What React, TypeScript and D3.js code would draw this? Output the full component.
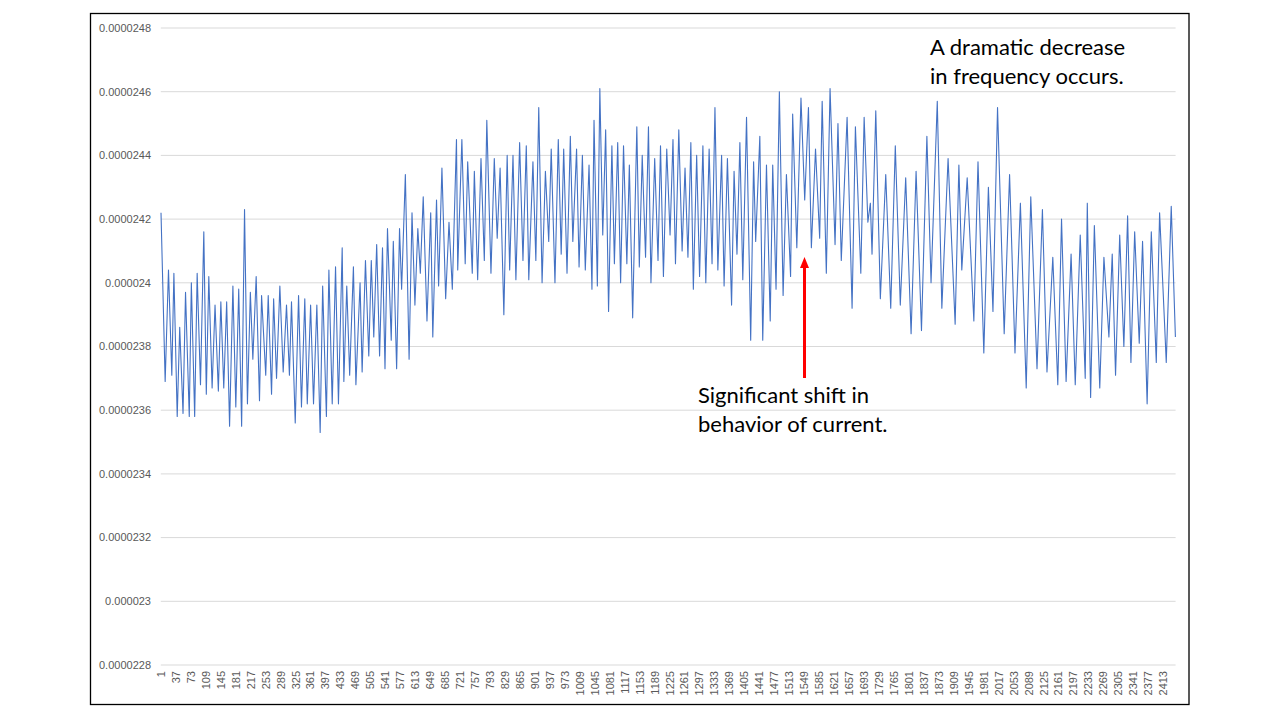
import React from "react";
import * as d3 from "d3";

// number of samples on the category axis
const N_POINTS = 2442;

// sample index of each turning point of the trace
const sampleIdx = [
  1, 11, 19, 27, 32, 40, 46, 54, 60, 69, 74, 82, 88, 96, 104, 110, 116, 124, 131, 139,
  145, 152, 159, 166, 174, 181, 188, 195, 202, 209, 216, 222, 230, 238, 243, 253, 259, 267, 272, 279,
  287, 295, 303, 310, 315, 324, 332, 339, 347, 353, 361, 368, 376, 384, 390, 399, 405, 413, 421, 428,
  437, 441, 448,
  455, 464, 470, 480, 485, 493, 501, 507, 513, 520, 527, 534, 540, 546, 555, 560, 568, 575, 580, 589,
  598, 605, 612, 619, 625, 632, 641, 650, 655, 664, 669, 677, 686, 694, 702, 712, 715, 725, 733, 739,
  750, 755, 763, 771, 779, 785, 795, 803, 810, 817, 826, 834, 840, 848, 855, 864, 872, 880, 886, 896,
  903, 910, 918, 926, 934, 940, 949, 957, 964, 970, 978, 986, 992, 1001, 1007, 1015, 1022, 1031, 1038, 1043,
  1051, 1057,
  1064, 1071, 1078, 1086, 1092, 1100, 1107, 1114, 1122, 1128, 1136, 1146, 1152, 1159, 1167, 1174, 1180, 1189, 1197, 1203,
  1210, 1218, 1226, 1233, 1239, 1247, 1255, 1262, 1269, 1276, 1282, 1290, 1297, 1305, 1312, 1320, 1327, 1334, 1341, 1350,
  1356, 1364, 1374, 1380, 1387, 1394, 1401, 1410, 1420, 1427, 1432, 1442, 1449, 1458, 1467, 1473, 1481, 1489, 1498, 1506,
  1516, 1521, 1531, 1541, 1550, 1559, 1566, 1576, 1586, 1592, 1602, 1611, 1623, 1630,
  1638, 1652, 1664, 1672, 1685, 1693, 1702, 1708, 1712, 1721, 1732, 1745, 1757, 1768, 1780, 1793, 1806, 1818, 1831, 1844,
  1854, 1869, 1880, 1895, 1912, 1921, 1928, 1941, 1957, 1967, 1981, 1992, 2003, 2014, 2030, 2043, 2056, 2069, 2083, 2094,
  2109, 2122, 2133, 2147, 2159, 2168, 2179, 2191, 2201, 2213, 2225, 2230, 2238, 2247, 2260, 2270, 2282, 2290, 2298, 2308,
  2318, 2327, 2335, 2344, 2355, 2363, 2374, 2384, 2396, 2404, 2416, 2420, 2432, 2442,
];

// current at those samples, in units of 1e-7
const current = [
  242.2, 236.9, 240.4, 237.1, 240.3, 235.8, 238.6, 235.9, 239.7, 235.8, 240.0, 235.8, 240.3, 236.8, 241.6, 236.5, 240.2, 236.7, 239.3, 236.6,
  239.4, 236.7, 239.4, 235.5, 239.9, 236.1, 239.8, 235.5, 242.3, 236.2, 239.7, 237.6, 240.2, 236.3, 239.6, 237.1, 239.6, 236.5, 239.5, 237.0,
  239.9, 237.2, 239.3, 237.1, 239.4, 235.6, 239.6, 236.1, 239.5, 236.2, 239.3, 236.2, 239.3, 235.3, 239.9, 235.8, 240.4, 236.2, 240.5, 236.2,
  241.1, 236.9, 239.9,
  237.1, 240.5, 236.8, 240.0, 237.2, 240.7, 237.7, 240.7, 238.3, 241.2, 237.7, 241.1, 237.3, 241.7, 238.2, 241.3, 237.3, 241.7, 239.8, 243.4,
  237.6, 242.2, 239.3, 241.7, 240.3, 242.7, 238.8, 242.2, 238.3, 242.6, 239.9, 243.6, 239.5, 241.9, 239.8, 244.5, 240.4, 244.5, 240.6, 243.8,
  240.3, 243.5, 240.1, 243.9, 240.7, 245.1, 240.3, 243.9, 241.4, 243.6, 239.0, 244.0, 240.4, 244.0, 240.1, 244.4, 240.7, 244.3, 240.1, 243.8,
  240.7, 245.5, 240.0, 243.5, 241.3, 244.2, 240.0, 244.5, 240.9, 244.2, 240.3, 244.6, 241.3, 244.2, 240.5, 244.0, 240.4, 243.7, 239.8, 245.1,
  239.9, 246.1,
  241.5, 244.8, 239.1, 244.3, 240.6, 244.4, 240.0, 244.3, 240.6, 243.7, 238.9, 244.9, 240.5, 244.0, 240.8, 244.9, 240.0, 243.9, 240.7, 244.3,
  240.2, 244.2, 241.5, 244.5, 240.6, 244.8, 241.0, 243.6, 240.8, 244.4, 239.8, 244.0, 240.2, 244.3, 240.0, 244.2, 240.6, 245.5, 240.4, 244.0,
  239.9, 243.9, 239.3, 243.5, 240.9, 244.4, 240.1, 245.2, 238.2, 243.8, 241.3, 244.6, 238.2, 243.7, 238.8, 243.7, 239.8, 246.0, 239.6, 243.4,
  240.2, 245.3, 241.1, 245.8, 242.6, 245.5, 241.1, 244.2, 241.4, 245.7, 240.3, 246.1, 241.2, 245.0,
  240.7, 245.2, 239.2, 244.9, 240.3, 245.2, 241.9, 242.5, 240.9, 245.4, 239.5, 243.4, 239.2, 244.3, 239.3, 243.3, 238.4, 243.5, 238.5, 244.6,
  240.0, 245.7, 239.2, 243.9, 238.7, 243.7, 240.4, 243.3, 238.8, 243.8, 237.8, 243.0, 239.1, 245.5, 238.4, 243.4, 237.8, 242.5, 236.7, 242.7,
  237.3, 242.3, 237.2, 240.8, 236.8, 242.0, 236.9, 240.9, 236.8, 241.5, 237.0, 242.5, 236.4, 241.8, 236.7, 240.8, 238.3, 240.9, 237.1, 241.5,
  238.0, 242.1, 237.5, 241.6, 238.1, 241.3, 236.2, 241.6, 237.5, 242.2, 238.7, 237.5, 242.4, 238.3,
];

// y axis ticks (units of 1e-7) and their labels
const yTicks = [228, 230, 232, 234, 236, 238, 240, 242, 244, 246, 248];
const yTickLabels = [
  "0.0000228", "0.000023", "0.0000232", "0.0000234", "0.0000236", "0.0000238",
  "0.000024", "0.0000242", "0.0000244", "0.0000246", "0.0000248",
];

// category labels, every 36th sample
const xTickLabels = d3.range(1, N_POINTS + 1, 36);

const noteTop = ["A dramatic decrease", "in frequency occurs."];
const noteShift = ["Significant shift in", "behavior of current."];

const App = () => {
  const width = 1280;
  const height = 720;
  const left = 160.8;
  const right = 1175.6;
  const top = 28;
  const bottom = 665;

  const x = d3.scaleLinear().domain([0.5, N_POINTS + 0.5]).range([left, right]);
  const y = d3.scaleLinear().domain([228, 248]).range([bottom, top]);

  const points = sampleIdx.map((d, i) => [d, current[i]] as [number, number]);
  const line = d3
    .line<[number, number]>()
    .x((d) => x(d[0]))
    .y((d) => y(d[1]));

  const labelFont = "'Liberation Sans', Arial, sans-serif";
  const noteFont = "Lato, 'Open Sans', sans-serif";

  return (
    <svg
      width={width}
      height={height}
      style={{ position: "absolute", left: 0, top: 0, background: "#fff" }}
    >
      <rect x={0} y={0} width={width} height={height} fill="#fff" />
      <rect x={90.5} y={13.5} width={1098.5} height={691} fill="none" stroke="#000" strokeWidth={1.3} />

      {/* gridlines */}
      {yTicks.map((t) => (
        <line key={t} x1={left} x2={right} y1={y(t)} y2={y(t)} stroke="#d9d9d9" strokeWidth={1} />
      ))}

      {/* y labels */}
      {yTicks.map((t, i) => (
        <text
          key={"yl" + t}
          x={151}
          y={y(t)}
          dy="0.35em"
          textAnchor="end"
          fontFamily={labelFont}
          fontSize={11}
          fill="#595959"
        >
          {yTickLabels[i]}
        </text>
      ))}

      {/* x labels */}
      {xTickLabels.map((c) => (
        <text
          key={"xl" + c}
          transform={`translate(${x(c)},671) rotate(-90)`}
          dy="0.35em"
          textAnchor="end"
          fontFamily={labelFont}
          fontSize={11}
          fill="#595959"
        >
          {c}
        </text>
      ))}

      {/* series */}
      <path d={line(points) || ""} fill="none" stroke="#4472c4" strokeWidth={1.1} strokeLinejoin="round" />

      {/* annotations */}
      {noteTop.map((s, i) => (
        <text key={s} x={930} y={55 + i * 29} fontFamily={noteFont} fontSize={22} fill="#000">
          {s}
        </text>
      ))}
      {noteShift.map((s, i) => (
        <text key={s} x={698} y={403 + i * 29} fontFamily={noteFont} fontSize={22} fill="#000">
          {s}
        </text>
      ))}
      <line x1={804.5} x2={804.5} y1={378} y2={266} stroke="#ff0000" strokeWidth={3} />
      <path d="M804.5,257 L809,268 L800,268 Z" fill="#ff0000" />
    </svg>
  );
};

export default App;
